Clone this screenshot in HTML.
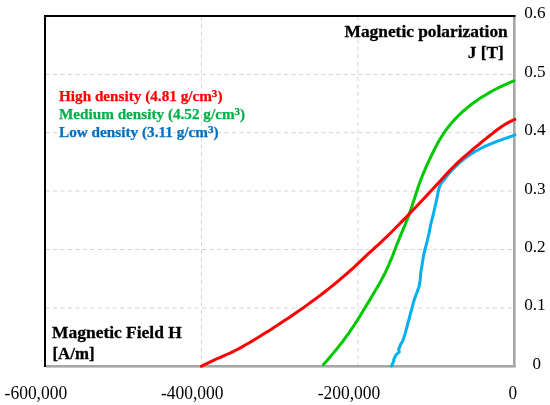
<!DOCTYPE html>
<html><head><meta charset="utf-8"><title>Magnetic polarization vs field</title>
<style>
html,body{margin:0;padding:0;background:#fff;}
body{width:550px;height:405px;overflow:hidden;position:relative;}
svg{position:absolute;left:0;top:0;}
text{font-family:"Liberation Serif","Times New Roman",serif;}
.b{font-weight:bold;font-size:17.33px;fill:#000;stroke:#000;stroke-width:0.3px;}
.lg{font-weight:bold;font-size:15px;stroke-width:0.25px;}
.ax{font-size:18px;fill:#000;}
.ay{font-size:17.5px;fill:#000;}
</style></head>
<body>
<svg width="550" height="405" viewBox="0 0 550 405">
<g stroke="#d6d6d6" stroke-width="1" fill="none">
<line x1="201.5" y1="366.7" x2="201.5" y2="17" stroke-dasharray="4.2 3.32" />
<line x1="358.0" y1="366.7" x2="358.0" y2="17" stroke-dasharray="4.2 3.32" />
<line x1="45.6" y1="74.5" x2="513" y2="74.5" stroke-dasharray="4.2 3.25" />
<line x1="45.6" y1="132.6" x2="513" y2="132.6" stroke-dasharray="4.2 3.25" />
<line x1="45.6" y1="191.0" x2="513" y2="191.0" stroke-dasharray="4.2 3.25" />
<line x1="45.6" y1="249.5" x2="513" y2="249.5" stroke-dasharray="4.2 3.25" />
<line x1="45.6" y1="308.0" x2="513" y2="308.0" stroke-dasharray="4.2 3.25" />
</g>
<rect x="513" y="17" width="2.6" height="350" fill="#a6a6a6"/>
<rect x="46" y="365" width="469.6" height="2.6" fill="#a6a6a6"/>
<rect x="44" y="15" width="471.6" height="2" fill="#000"/>
<rect x="44" y="15" width="2" height="352" fill="#000"/>
<g fill="none" stroke-width="3" stroke-linejoin="round" stroke-linecap="round">
<polyline stroke="#00b0f0" points="391.5,366.0 393.9,360.6 393.7,359.6 395.9,355.0 399.3,351.9 398.6,349.6 401.0,343.6 402.5,341.6 404.8,334.6 407.2,326.0 409.7,316.5 412.0,307.8 414.3,299.5 417.3,291.4 419.1,286.6 420.1,280.2 420.9,272.1 422.2,264.1 423.3,256.9 424.9,249.6 426.5,244.0 428.9,233.9 430.6,225.0 432.7,216.7 434.8,207.8 436.8,198.9 438.1,192.2 439.1,187.9 440.4,184.4 442.4,181.8 444.3,179.4 446.1,177.0 448.0,174.7 449.9,172.6 451.7,170.5 453.6,168.5 455.4,166.7 457.3,164.9 459.1,163.2 461.0,161.5 462.9,160.0 464.7,158.5 466.6,157.1 468.5,155.8 470.3,154.5 472.2,153.3 474.1,152.1 475.9,151.0 477.8,150.0 479.6,149.0 481.5,148.0 483.4,147.1 485.2,146.2 487.1,145.4 488.9,144.6 490.8,143.8 492.7,143.1 494.5,142.3 496.4,141.6 498.2,140.9 500.1,140.3 502.0,139.6 503.8,138.9 505.7,138.3 507.6,137.6 509.4,137.0 511.3,136.3 513.1,135.6 515.0,134.9"/>
<polyline stroke="#00c800" points="323.5,364.6 326.0,361.7 328.4,358.9 330.9,356.0 333.3,353.1 335.7,350.3 338.0,347.4 340.3,344.5 342.5,341.7 344.6,338.8 346.7,335.9 348.8,333.1 350.8,330.2 352.7,327.4 354.6,324.5 356.4,321.6 358.3,318.8 360.1,315.9 361.8,313.0 363.6,310.1 365.3,307.3 367.1,304.4 368.8,301.6 370.5,298.7 372.2,295.8 373.9,293.0 375.6,290.1 377.3,287.2 378.9,284.4 380.6,281.5 382.1,278.6 383.6,275.8 385.1,272.9 386.4,270.0 387.8,267.2 389.0,264.3 390.2,261.4 391.4,258.6 392.6,255.7 393.7,252.8 394.8,250.0 395.9,247.1 397.0,244.2 398.2,241.4 399.3,238.5 400.5,235.7 401.7,232.8 402.9,229.9 404.1,227.1 405.3,224.2 406.4,221.3 407.6,218.4 408.7,215.6 409.7,212.7 410.7,209.8 411.7,207.0 412.6,204.1 413.5,201.3 414.5,198.4 415.4,195.5 416.3,192.7 417.3,189.8 418.2,186.9 419.2,184.1 420.3,181.2 421.4,178.3 422.5,175.5 423.7,172.6 424.9,169.7 426.1,166.9 427.4,164.0 428.8,161.1 430.1,158.3 431.5,155.4 432.9,152.5 434.3,149.7 435.8,146.8 437.3,143.9 438.9,141.1 440.6,138.2 442.4,135.3 444.3,132.5 446.3,129.6 448.5,126.8 450.8,123.9 453.3,121.0 455.9,118.2 458.8,115.3 461.8,112.4 465.0,109.6 468.5,106.7 472.2,103.8 476.2,101.0 480.4,98.1 485.0,95.2 489.8,92.4 495.0,89.5 500.7,86.6 506.9,83.8 513.7,80.9"/>
<polyline stroke="#ff0000" points="201.4,366.3 204.6,364.6 207.7,363.1 210.9,361.6 214.1,360.1 217.2,358.7 220.4,357.4 223.6,355.9 226.7,354.5 229.9,353.1 233.1,351.6 236.2,350.0 239.4,348.4 242.6,346.6 245.7,344.8 248.9,343.0 252.1,341.1 255.2,339.2 258.4,337.3 261.6,335.3 264.7,333.3 267.9,331.4 271.0,329.4 274.2,327.3 277.4,325.3 280.5,323.2 283.7,321.1 286.9,319.0 290.0,316.9 293.2,314.8 296.4,312.6 299.5,310.4 302.7,308.2 305.9,305.9 309.0,303.6 312.2,301.3 315.4,299.0 318.5,296.6 321.7,294.2 324.9,291.7 328.0,289.3 331.2,286.7 334.4,284.2 337.5,281.6 340.7,278.9 343.9,276.2 347.0,273.5 350.2,270.7 353.4,267.8 356.5,264.8 359.7,261.8 362.9,258.8 366.0,255.8 369.2,252.9 372.4,250.1 375.5,247.2 378.7,244.3 381.8,241.4 385.0,238.3 388.2,235.3 391.3,232.2 394.5,229.0 397.7,225.8 400.8,222.6 404.0,219.4 407.2,216.1 410.3,212.8 413.5,209.5 416.7,206.2 419.8,202.9 423.0,199.5 426.2,196.1 429.3,192.7 432.5,189.3 435.7,185.8 438.8,182.4 442.0,178.9 445.2,175.4 448.3,172.1 451.5,168.8 454.6,165.7 457.8,162.7 461.0,159.7 464.1,156.9 467.3,154.1 470.5,151.4 473.6,148.7 476.8,146.1 480.0,143.5 483.1,140.9 486.3,138.3 489.5,135.8 492.6,133.3 495.8,130.8 499.0,128.5 502.1,126.3 505.3,124.3 508.5,122.4 511.6,120.8 514.8,119.3"/>
</g>

<text class="b" x="344.6" y="36.7">Magnetic polarization</text>
<text class="b" x="467.8" y="57.6">J [T]</text>
<text class="lg" x="59" y="101" fill="#ff0000" stroke="#ff0000" textLength="163.5" lengthAdjust="spacingAndGlyphs">High density (4.81 g/cm<tspan font-size="18.3px" dy="0.6">³</tspan><tspan dy="-0.6">)</tspan></text>
<text class="lg" x="59" y="119" fill="#00b048" stroke="#00b048" textLength="186.2" lengthAdjust="spacingAndGlyphs">Medium density (4.52 g/cm<tspan font-size="18.3px" dy="0.6">³</tspan><tspan dy="-0.6">)</tspan></text>
<text class="lg" x="59" y="137" fill="#0070c0" stroke="#0070c0" textLength="159.6" lengthAdjust="spacingAndGlyphs">Low density (3.11 g/cm<tspan font-size="18.3px" dy="0.6">³</tspan><tspan dy="-0.6">)</tspan></text>
<text class="b" x="52.1" y="337.5" textLength="129.7" lengthAdjust="spacingAndGlyphs">Magnetic Field H</text>
<text class="b" x="52.5" y="358.5" textLength="42" lengthAdjust="spacingAndGlyphs">[A/m]</text>

<text class="ay" x="524.2" y="18.4" textLength="21.5" lengthAdjust="spacingAndGlyphs">0.6</text>
<text class="ay" x="524.2" y="76.7" textLength="21.5" lengthAdjust="spacingAndGlyphs">0.5</text>
<text class="ay" x="524.2" y="135.1" textLength="21.5" lengthAdjust="spacingAndGlyphs">0.4</text>
<text class="ay" x="524.2" y="193.5" textLength="21.5" lengthAdjust="spacingAndGlyphs">0.3</text>
<text class="ay" x="524.2" y="251.9" textLength="21.5" lengthAdjust="spacingAndGlyphs">0.2</text>
<text class="ay" x="524.2" y="310.3" textLength="21.5" lengthAdjust="spacingAndGlyphs">0.1</text>
<text class="ay" x="532.4" y="369.2" textLength="8.5" lengthAdjust="spacingAndGlyphs">0</text>
<text class="ax" x="4.6" y="398.5" textLength="62.6" lengthAdjust="spacingAndGlyphs">-600,000</text>
<text class="ax" x="160.9" y="398.5" textLength="62.6" lengthAdjust="spacingAndGlyphs">-400,000</text>
<text class="ax" x="317.7" y="398.5" textLength="62.6" lengthAdjust="spacingAndGlyphs">-200,000</text>
<text class="ax" x="508.6" y="398.5" textLength="8.6" lengthAdjust="spacingAndGlyphs">0</text>
</svg>
</body></html>
